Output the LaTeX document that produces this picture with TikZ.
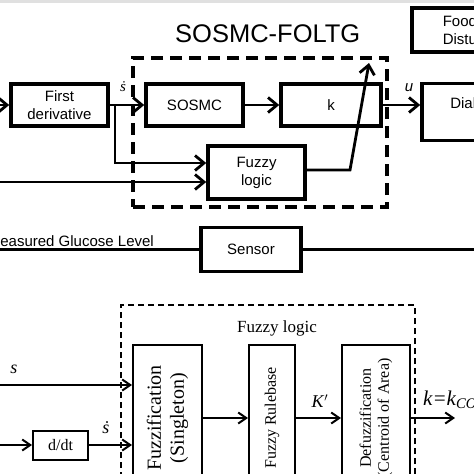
\documentclass[tikz,border=0pt]{standalone}
\usepackage{fontspec}
\setmainfont{Liberation Serif}
\setsansfont{Liberation Sans}
\usetikzlibrary{arrows.meta, positioning}

\tikzset{
  blk/.style={draw, line width=3.6pt, inner sep=0pt, align=center,
    font=\sffamily\fontsize{15}{18}\selectfont},
  fblk/.style={draw, line width=2pt, inner sep=0pt},
  frame/.style={draw, line width=3.6pt, dash pattern=on 12pt off 7pt, inner sep=0pt},
  fframe/.style={draw, line width=2pt, dash pattern=on 6pt off 4pt, inner sep=0pt},
  sig/.style={line width=2.8pt, -{Straight Barb[length=9pt,width=15pt]}},
  fsig/.style={line width=2pt, -{Straight Barb[length=8pt,width=11pt]}},
  vtext/.style={rotate=90, align=center, inner sep=0pt},
  var/.style={inner sep=0pt, font=\itshape\fontsize{18}{18}\selectfont}
}

\begin{document}
\begin{tikzpicture}[x=1pt, y=-1pt]
  \useasboundingbox (0,0) rectangle (474,474);
  \clip (0,0) rectangle (474,474);
  \fill[black!12] (0,0) rectangle (474,2.5);

  % upper loop
  \node[anchor=base west, inner sep=0pt, font=\sffamily\fontsize{25.5}{28}\selectfont] (title) at (175,42) {SOSMC-FOLTG};
  \node[frame, minimum width=254, minimum height=149] (ctrl) at (260,132.5) {};
  \node[blk, minimum width=97, minimum height=42] (deriv) at (59.5,105) {First\\derivative};
  \node[blk, minimum width=97, minimum height=42] (smc) at (194.5,105) {SOSMC};
  \node[blk, minimum width=100, minimum height=42] (gain) at (331,105) {k};
  \node[blk, minimum width=97, minimum height=53] (fuzzy) at (256.5,172.5) {Fuzzy\\logic};
  \node[blk, minimum width=160, minimum height=57] (plant) at (502,112) {Diabetic patient\\model};
  \node[blk, anchor=west, minimum height=44, text width=120pt, inner xsep=31pt, align=left] (food) at (410,30) {Food\\Disturbance};
  \node[blk, minimum width=100, minimum height=44] (sensor) at (251,249.5) {Sensor};

  \coordinate (in1) at (-5,105);
  \coordinate (in2) at (-5,182);
  \coordinate (br) at (115,105);
  \coordinate (bend) at (350,170);
  \coordinate (tip) at (369,63);
  \coordinate (ms1) at (-5,249.5);
  \coordinate (ms2) at (480,249.5);

  \draw[sig] (in1) -- (deriv);
  \draw[sig] (deriv) -- (smc);
  \draw[sig] (smc) -- (gain);
  \draw[sig] (br) |- ([yshift=9.5pt]fuzzy.west);
  \draw[sig] (in2) -- (in2 -| fuzzy.west);
  \draw[sig] ([yshift=2.5pt]fuzzy.east) -- (bend) -- (tip);
  \draw[sig] (gain) -- (gain -| plant.west);
  \draw[line width=2.8pt] (ms1) -- (sensor) -- (ms2);

  \node[var, font=\itshape\fontsize{15}{15}\selectfont] (sdot) at (123,87) {\.s};
  \node[font=\sffamily\itshape\fontsize{15}{15}\selectfont] (ulbl) at (409,88) {u};
  \node[anchor=base east, inner sep=0pt, font=\sffamily\fontsize{15}{18}\selectfont] (meas) at (154,246.5) {Measured Glucose Level};

  % fuzzy logic block
  \node[fframe, minimum width=294, minimum height=215] (flc) at (268,412.5) {};
  \node[font=\fontsize{17}{20}\selectfont] (flclbl) at (277,328) {Fuzzy logic};
  \node[fblk, minimum width=69, minimum height=146] (fuzzif) at (167.5,418) {};
  \node[vtext, font=\fontsize{20}{23}\selectfont] (fuzziftxt) at (fuzzif) {Fuzzification\\(Singleton)};
  \node[fblk, minimum width=46, minimum height=146] (rule) at (272,418) {};
  \node[vtext, font=\fontsize{16}{18}\selectfont] (ruletxt) at (rule) {Fuzzy Rulebase};
  \node[fblk, minimum width=68, minimum height=146] (defuzz) at (376,418) {};
  \node[vtext, font=\fontsize{16}{18}\selectfont] (defuzztxt) at (defuzz) {Defuzzification\\(Centroid of Area)};
  \node[fblk, minimum width=55, minimum height=29, font=\fontsize{16}{18}\selectfont] (ddt) at (60.5,445) {d/dt};

  \coordinate (sin) at (-5,385);
  \coordinate (din) at (-5,445);
  \coordinate (kout) at (455,418);

  \draw[fsig] (sin) -- (sin -| fuzzif.west);
  \draw[fsig] (din) -- (ddt);
  \draw[fsig] (ddt) -- (ddt -| fuzzif.west);
  \draw[fsig] (fuzzif) -- (rule);
  \draw[fsig] (rule) -- (defuzz);
  \draw[fsig] (defuzz) -- (kout);

  \node[var] (slbl) at (14,369) {s};
  \node[var] (sdlbl) at (106,428) {\.s};
  \node[var] (klbl) at (320,401) {K\/$'$};
  \node[var, anchor=west, font=\itshape\fontsize{21}{21}\selectfont] (kcoa) at (423,400) {k=k\textsubscript{COA}};
\end{tikzpicture}
\end{document}
